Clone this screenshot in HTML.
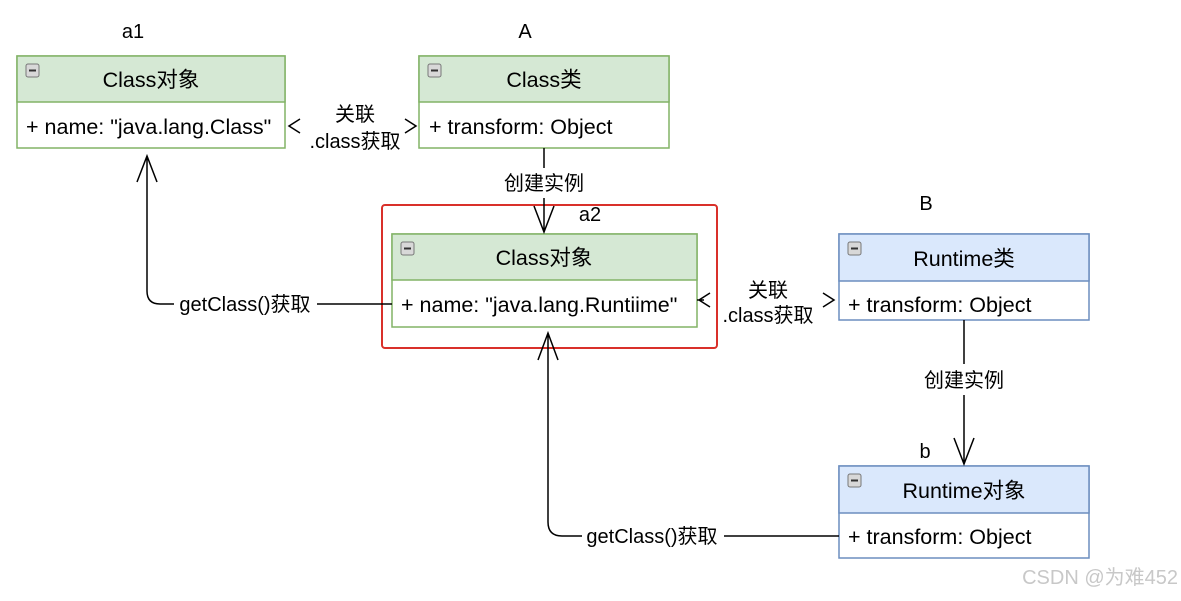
<!DOCTYPE html>
<html><head><meta charset="utf-8"><style>
body{margin:0;background:#fff}
text{font-family:"Liberation Sans","Noto Sans CJK SC",sans-serif;fill:#000}
</style></head><body>
<svg width="1181" height="596" viewBox="0 0 1181 596" xmlns="http://www.w3.org/2000/svg">
<defs>
<g id="ico"><rect x="0" y="0" width="13" height="13" rx="2" fill="#d8d8d8" stroke="#777"/><rect x="3" y="5.5" width="7" height="2" fill="#333"/></g>
</defs>
<g font-size="20">
<text x="133" y="38" text-anchor="middle">a1</text>
<text x="525" y="38" text-anchor="middle">A</text>
<text x="590" y="221" text-anchor="middle">a2</text>
<text x="926" y="210" text-anchor="middle">B</text>
<text x="925" y="458" text-anchor="middle">b</text>
</g>
<rect x="382" y="205" width="335" height="143" rx="3" fill="none" stroke="#d9302a" stroke-width="2"/>
<g stroke-width="1.5">
<rect x="17" y="56" width="268" height="92" fill="#fff" stroke="#82b366"/><rect x="17" y="56" width="268" height="46" fill="#d5e8d4" stroke="#82b366"/>
<rect x="419" y="56" width="250" height="92" fill="#fff" stroke="#82b366"/><rect x="419" y="56" width="250" height="46" fill="#d5e8d4" stroke="#82b366"/>
<rect x="392" y="234" width="305" height="93" fill="#fff" stroke="#82b366"/><rect x="392" y="234" width="305" height="46" fill="#d5e8d4" stroke="#82b366"/>
<rect x="839" y="234" width="250" height="86" fill="#fff" stroke="#6c8ebf"/><rect x="839" y="234" width="250" height="47" fill="#dae8fc" stroke="#6c8ebf"/>
<rect x="839" y="466" width="250" height="92" fill="#fff" stroke="#6c8ebf"/><rect x="839" y="466" width="250" height="47" fill="#dae8fc" stroke="#6c8ebf"/>
</g>
<use href="#ico" x="26" y="64"/><use href="#ico" x="428" y="64"/><use href="#ico" x="401" y="242"/><use href="#ico" x="848" y="242"/><use href="#ico" x="848" y="474"/>
<g font-size="21.5">
<text x="151" y="87" text-anchor="middle">Class对象</text>
<text x="544" y="87" text-anchor="middle">Class类</text>
<text x="544" y="265" text-anchor="middle">Class对象</text>
<text x="964" y="266" text-anchor="middle">Runtime类</text>
<text x="964" y="498" text-anchor="middle">Runtime对象</text>
<text x="26" y="134">+ name: "java.lang.Class"</text>
<text x="429" y="134">+ transform: Object</text>
<text x="401" y="312">+ name: "java.lang.Runtiime"</text>
<text x="848" y="312">+ transform: Object</text>
<text x="848" y="544">+ transform: Object</text>
</g>
<g stroke="#000" stroke-width="1.5" fill="none">
<path d="M300 119 L289 126 L300 133 M405 119 L416 126 L405 133"/>
<path d="M544 148 V168 M544 198 V232 M534 206 L544 232 L554 206"/>
<path d="M392 304 H317 M174 304 H160 Q147 304 147 291 V156 M137 182 L147 156 L157 182"/>
<path d="M710 293 L699 300 L710 307 M823 293 L834 300 L823 307 M697 300 H704"/>
<path d="M964 320 V364 M964 395 V464 M954 438 L964 464 L974 438"/>
<path d="M839 536 H724 M582 536 H562 Q548 536 548 522 V333 M538 360 L548 333 L558 360"/>
</g>
<g font-size="20" text-anchor="middle">
<text x="355" y="121">关联</text>
<text x="355" y="148">.class获取</text>
<text x="544" y="190">创建实例</text>
<text x="245" y="311">getClass()获取</text>
<text x="768" y="297">关联</text>
<text x="768" y="322">.class获取</text>
<text x="964" y="387">创建实例</text>
<text x="652" y="543">getClass()获取</text>
</g>
<text x="1178" y="584" text-anchor="end" font-size="20" style="fill:#c8c8c8">CSDN @为难452</text>
</svg>
</body></html>
